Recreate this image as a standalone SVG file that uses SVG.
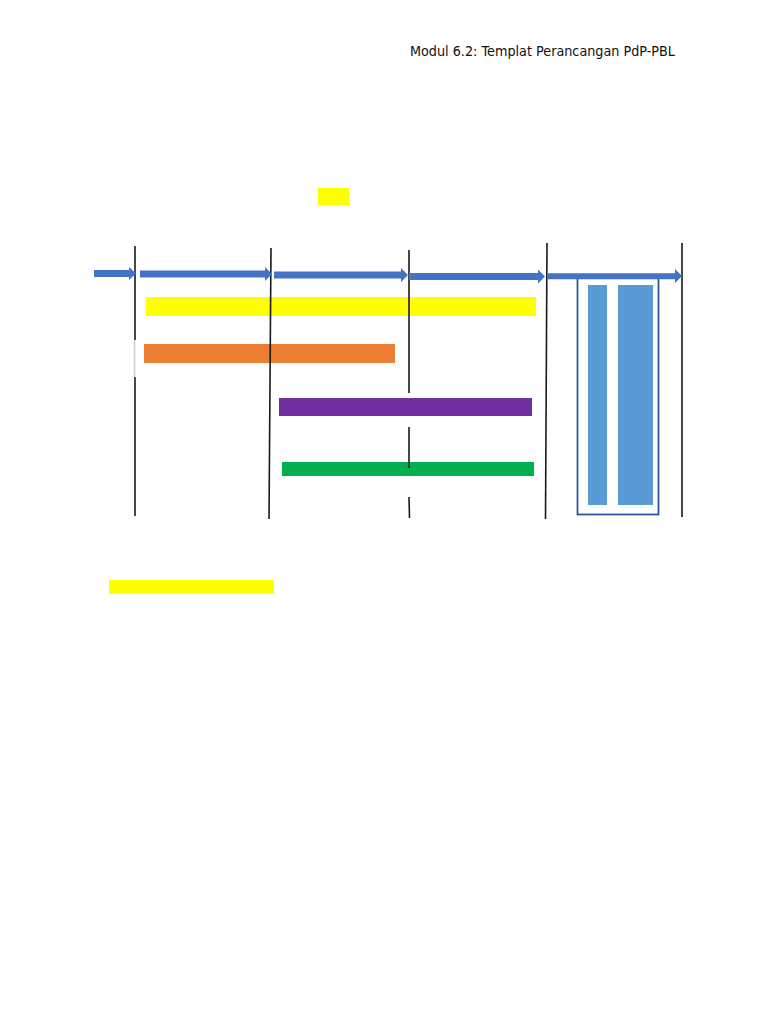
<svg xmlns="http://www.w3.org/2000/svg" width="768" height="1024" viewBox="0 0 768 1024">
<style>
.vl{stroke:#1a1a1a;stroke-width:1.6;fill:none}
.arr{fill:#4472C4}
.hdr{font-family:"DejaVu Sans","Liberation Sans",sans-serif;font-size:14px;fill:#111}
</style>
<rect width="768" height="1024" fill="#fff"/>
<g id="header"><text class="hdr" x="410" y="56" textLength="265" lengthAdjust="spacingAndGlyphs">Modul 6.2: Templat Perancangan PdP-PBL</text></g>
<g id="yellow-small"><rect x="318" y="188" width="31" height="17" fill="#FFFF00"/></g>
<g id="yellow-bottom"><rect x="109" y="580" width="165" height="14" fill="#FFFF00"/></g>
<g id="bars">
<rect id="bar-yellow" x="146" y="297" width="390" height="19" fill="#FFFF00"/>
<rect id="bar-orange" x="144" y="344" width="251" height="19" fill="#ED7D31"/>
<rect id="bar-purple" x="279" y="398" width="253" height="18" fill="#7030A0"/>
<rect id="bar-green" x="282" y="462" width="252" height="14" fill="#00B050"/>
</g>
<g id="phase-box">
<rect x="577.5" y="277.5" width="81" height="237" fill="#fff" stroke="#2F5597" stroke-width="1.8"/>
<rect x="588" y="285" width="19" height="220" fill="#5B9BD5"/>
<rect x="618" y="285" width="35" height="220" fill="#5B9BD5"/>
</g>
<g id="connectors">
<path class="vl" d="M135,246 L135,340"/>
<path d="M134.5,340 L134.5,377" stroke="#cfcfcf" stroke-width="1.6"/>
<path class="vl" d="M135,377 L135,516"/>
<path class="vl" d="M271,248 L269,519"/>
<path class="vl" d="M409,250 L409,393 M409,427 L409,468 M409,497 L409.5,518"/>
<path class="vl" d="M547,243 L545.5,519"/>
<path class="vl" d="M682,243 L682,517" stroke-width="2"/>
<polygon class="arr" points="94,270 129,270 129,267 136,273.5 129,280 129,277 94,277"/>
<polygon class="arr" points="140,270.5 265,270.5 265,267 272,274 265,281 265,277.5 140,277.5"/>
<polygon class="arr" points="274,271.5 401,271.5 401,268 408,275 401,282 401,278.5 274,278.5"/>
<polygon class="arr" points="409,273 538,273 538,269.5 545,276.5 538,283.5 538,280 409,280"/>
<polygon class="arr" points="548,273.3 675,273.3 675,269 682,276 675,283 675,279.3 548,279.3"/>
</g>
</svg>
